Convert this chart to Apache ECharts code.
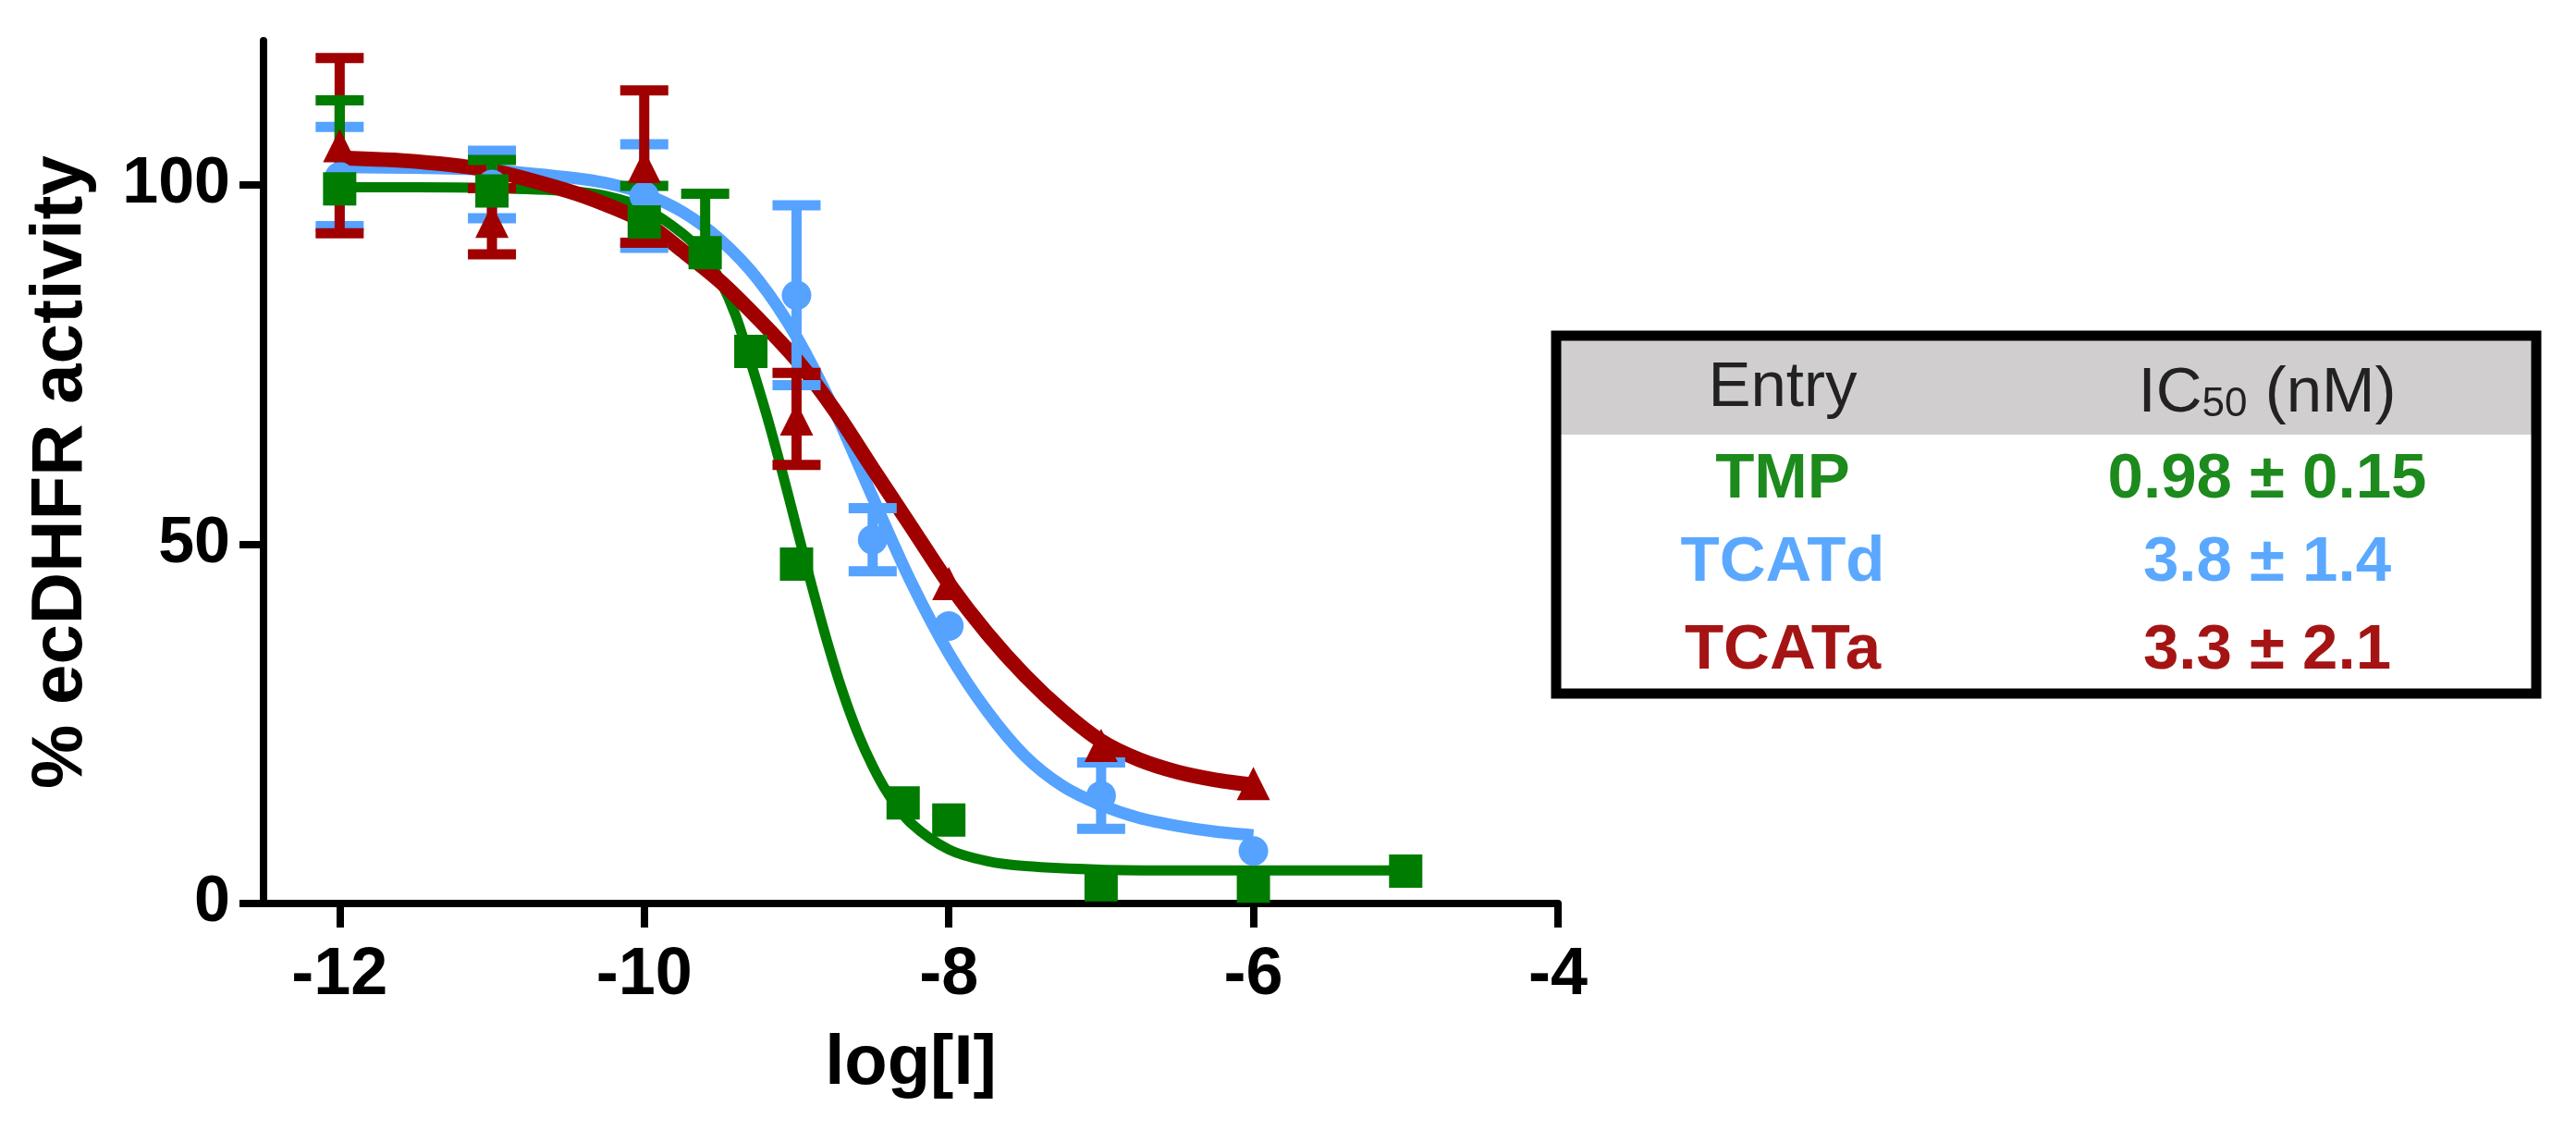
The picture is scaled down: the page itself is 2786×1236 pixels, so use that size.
<!DOCTYPE html>
<html>
<head>
<meta charset="utf-8">
<script src="https://cdn.jsdelivr.net/npm/echarts@6/dist/echarts.min.js"></script>
<style>
html,body{margin:0;padding:0;background:#fff;}
#chart{width:2786px;height:1236px;}
</style>
</head>
<body>
<div id="chart"></div>
<script>
// ---------- data ----------
const xTicks = [-12, -10, -8, -6, -4];
const yTicks = [0, 50, 100];

// TMP (green squares) – measured points, error bar drawn upward only
const tmpX = [-12, -11, -10, -9.6, -9.3, -9, -8.3, -8, -7, -6, -5];
const tmpY = [99.4, 99.1, 94.8, 90.5, 76.8, 47.2, 14.0, 11.6, 2.6, 2.4, 4.5];
const tmpErrUp = [12.3, 4.3, 5.0, 8.2, 0, 0, 0, 0, 0, 0, 0];
const tmpErrDown = [0, 0, 0, 0, 0, 0, 0, 0, 0, 0, 0];

// TCATd (blue circles)
const tcatdX = [-12, -11, -10, -9, -8.5, -8, -7, -6];
const tcatdY = [101.1, 100.0, 98.4, 84.6, 50.6, 38.6, 15.0, 7.3];
const tcatdErrUp = [6.9, 4.7, 7.2, 12.5, 4.4, 0, 4.6, 0];
const tcatdErrDown = [6.9, 4.7, 7.2, 12.5, 4.4, 0, 4.6, 0];

// TCATa (red triangles)
const tcataX = [-12, -11, -10, -9, -8, -7, -6];
const tcataY = [105.4, 94.9, 102.5, 67.4, 44.5, 22.0, 16.7];
const tcataErrUp = [12.2, 4.6, 10.6, 6.4, 0, 0, 0];
const tcataErrDown = [12.2, 4.6, 10.6, 6.4, 0, 0, 0];

// fitted curves, values
const tmpFitX = [-12, -11.5, -11, -10.5, -10.25, -10, -9.75, -9.6, -9.5, -9.4, -9.3, -9.2, -9.1, -9.0, -8.9, -8.8, -8.7, -8.6, -8.5, -8.4, -8.25, -8.0, -7.75, -7.5, -7.0, -6.5, -6.0, -5.5, -5.0];
const tmpFitY = [99.6, 99.6, 99.5, 99.1, 98.4, 96.7, 93.2, 90.0, 86.6, 81.8, 75.2, 68.2, 60.5, 52.3, 44.2, 36.5, 29.6, 23.8, 19.1, 15.3, 11.2, 7.5, 5.9, 5.2, 4.7, 4.6, 4.6, 4.6, 4.6];

const tcatFitX = [-12, -11.5, -11, -10.5, -10.25, -10, -9.75, -9.5, -9.25, -9.0, -8.75, -8.5, -8.25, -8.0, -7.75, -7.5, -7.25, -7.0, -6.75, -6.5, -6.25, -6.0];
const tcatdFitY = [102.4, 102.3, 102.0, 101.0, 100.2, 98.7, 96.2, 92.3, 86.7, 78.8, 68.5, 56.5, 44.8, 34.8, 26.8, 20.5, 16.3, 13.7, 11.9, 10.8, 10.0, 9.5];
const tcataFitY = [103.7, 103.2, 101.9, 99.1, 97.2, 94.8, 90.8, 86.5, 81.3, 75.6, 68.6, 60.5, 52.5, 44.5, 37.6, 31.7, 26.7, 22.6, 20.0, 18.3, 17.2, 16.5];

// table
const tableHeader = ['Entry', 'IC50 (nM)'];
const tableEntries = ['TMP', 'TCATd', 'TCATa'];
const tableValues = ['0.98 ± 0.15', '3.8 ± 1.4', '3.3 ± 2.1'];

// ---------- styling ----------
const GREEN = '#007c00', BLUE = '#55a2ff', RED = '#a00000';
const GREEN_T = '#1c8a1c', BLUE_T = '#5aa8ff', RED_T = '#a51414';
const FONT = '"Liberation Sans", Arial, sans-serif';

function pairs(xs, ys) { return xs.map((x, i) => [x, ys[i]]); }
function errData(xs, ys, up, down) {
  return xs.map((x, i) => [x, ys[i] - down[i], ys[i] + up[i], ys[i]]);
}
function errRender(color, lw, capW) {
  return function (params, api) {
    const x = api.value(0), lo = api.value(1), hi = api.value(2), c = api.value(3);
    if (hi - lo <= 0) return null;
    const pLo = api.coord([x, lo]);
    const pHi = api.coord([x, hi]);
    const st = { stroke: color, lineWidth: lw, lineCap: 'butt' };
    const ch = [{ type: 'line', shape: { x1: pLo[0], y1: pLo[1], x2: pHi[0], y2: pHi[1] }, style: st }];
    if (hi > c) ch.push({ type: 'line', shape: { x1: pHi[0] - capW / 2, y1: pHi[1], x2: pHi[0] + capW / 2, y2: pHi[1] }, style: st });
    if (lo < c) ch.push({ type: 'line', shape: { x1: pLo[0] - capW / 2, y1: pLo[1], x2: pLo[0] + capW / 2, y2: pLo[1] }, style: st });
    return { type: 'group', children: ch };
  };
}

const chart = echarts.init(document.getElementById('chart'), null, { renderer: 'canvas' });

// table geometry
const T = { left: 1683, top: 363, right: 2743, bottom: 750, headBottom: 470 };
const colEntry = 1928, colVal = 2452;
const rowY = [519, 609, 704];
const rowColors = [GREEN_T, BLUE_T, RED_T];

const graphics = [
  { type: 'rect', shape: { x: T.left, y: T.top, width: T.right - T.left, height: T.headBottom - T.top },
    style: { fill: '#d0cecf' }, z: 10 },
  { type: 'rect', shape: { x: T.left, y: T.top, width: T.right - T.left, height: T.bottom - T.top },
    style: { fill: 'none', stroke: '#000', lineWidth: 11 }, z: 11 },
  { type: 'text', x: colEntry, y: 420, z: 12,
    style: { text: tableHeader[0], font: '400 69px ' + FONT, fill: '#222', align: 'center', verticalAlign: 'middle' } },
  { type: 'text', x: colVal, y: 420, z: 12,
    style: { text: '{a|IC}{b|50}{a| (nM)}', align: 'center', verticalAlign: 'middle',
      rich: {
        a: { font: '400 69px ' + FONT, fill: '#222', verticalAlign: 'bottom', lineHeight: 80 },
        b: { font: '400 44px ' + FONT, fill: '#222', verticalAlign: 'bottom', lineHeight: 62 }
      } } }
];
tableEntries.forEach((e, i) => {
  graphics.push({ type: 'text', x: colEntry, y: rowY[i], z: 12,
    style: { text: e, font: '700 69px ' + FONT, fill: rowColors[i], align: 'center', verticalAlign: 'middle' } });
  graphics.push({ type: 'text', x: colVal, y: rowY[i], z: 12,
    style: { text: tableValues[i], font: '700 69px ' + FONT, fill: rowColors[i], align: 'center', verticalAlign: 'middle' } });
});

const option = {
  backgroundColor: '#ffffff',
  animation: false,
  grid: { left: 285, right: 1101, top: 44, bottom: 259, containLabel: false, outerBoundsMode: 'none' },
  xAxis: {
    type: 'value', min: -12.5, max: -4,
    name: 'log[I]', nameLocation: 'middle', nameGap: 136,
    nameTextStyle: { fontFamily: FONT, fontWeight: 'bold', fontSize: 76, color: '#000' },
    axisLine: { onZero: false, lineStyle: { color: '#000', width: 8 } },
    axisTick: { show: true, length: 26, lineStyle: { color: '#000', width: 8 }, customValues: xTicks },
    axisLabel: { customValues: xTicks, margin: 42, fontFamily: FONT, fontWeight: 'bold', fontSize: 72, color: '#000' },
    splitLine: { show: false }
  },
  yAxis: {
    type: 'value', min: 0, max: 120,
    name: '% ecDHFR activity', nameLocation: 'middle', nameGap: 180,
    nameTextStyle: { fontFamily: FONT, fontWeight: 'bold', fontSize: 78, color: '#000' },
    axisLine: { show: true, lineStyle: { color: '#000', width: 8 } },
    axisTick: { show: true, length: 26, lineStyle: { color: '#000', width: 8 }, customValues: yTicks },
    axisLabel: { customValues: yTicks, margin: 36, fontFamily: FONT, fontWeight: 'bold', fontSize: 70, color: '#000' },
    splitLine: { show: false }
  },
  graphic: graphics,
  series: [
    { name: 'TMP fit', type: 'line', data: pairs(tmpFitX, tmpFitY), smooth: 0.3, showSymbol: false,
      lineStyle: { color: GREEN, width: 11 }, z: 2 },
    { name: 'TCATd fit', type: 'line', data: pairs(tcatFitX, tcatdFitY), smooth: 0.3, showSymbol: false,
      lineStyle: { color: BLUE, width: 13 }, z: 2 },
    { name: 'TCATa fit', type: 'line', data: pairs(tcatFitX, tcataFitY), smooth: 0.3, showSymbol: false,
      lineStyle: { color: RED, width: 16 }, z: 2 },

    { name: 'TCATd err', type: 'custom', renderItem: errRender(BLUE, 11, 52),
      data: errData(tcatdX, tcatdY, tcatdErrUp, tcatdErrDown), encode: { x: 0, y: [1, 2] }, z: 3 },
    { name: 'TCATa err', type: 'custom', renderItem: errRender(RED, 11, 52),
      data: errData(tcataX, tcataY, tcataErrUp, tcataErrDown), encode: { x: 0, y: [1, 2] }, z: 3 },
    { name: 'TMP err', type: 'custom', renderItem: errRender(GREEN, 11, 52),
      data: errData(tmpX, tmpY, tmpErrUp, tmpErrDown), encode: { x: 0, y: [1, 2] }, z: 3 },

    { name: 'TCATd', type: 'scatter', data: pairs(tcatdX, tcatdY), symbol: 'circle', symbolSize: 32,
      itemStyle: { color: BLUE, opacity: 1 }, z: 4 },
    { name: 'TCATa', type: 'scatter', data: pairs(tcataX, tcataY), symbol: 'triangle', symbolSize: 36,
      itemStyle: { color: RED, opacity: 1 }, z: 4 },
    { name: 'TMP', type: 'scatter', data: pairs(tmpX, tmpY), symbol: 'rect', symbolSize: 36,
      itemStyle: { color: GREEN, opacity: 1 }, z: 4 }
  ]
};
chart.setOption(option);
</script>
</body>
</html>
